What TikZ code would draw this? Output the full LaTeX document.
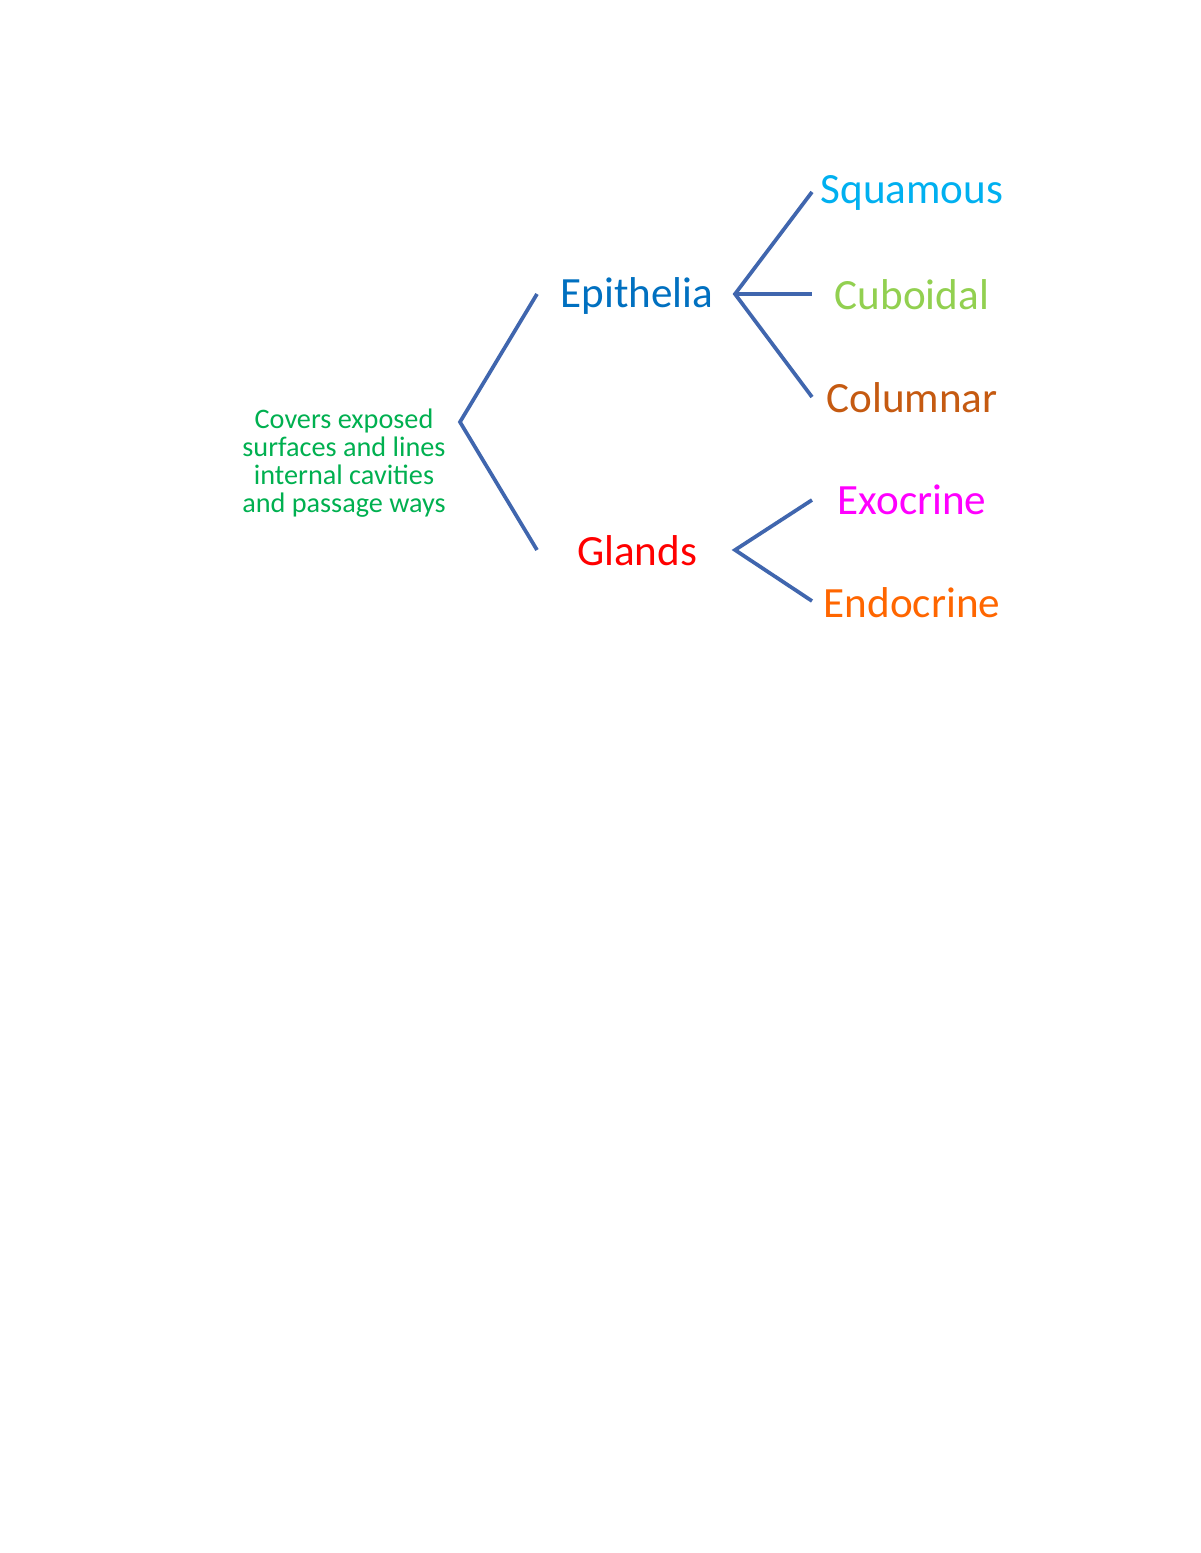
\documentclass[tikz,border=0pt]{standalone}
\usepackage{fontspec}
\setmainfont{Carlito}
\definecolor{linec}{HTML}{4066AE}
\definecolor{epc}{HTML}{0070C0}
\definecolor{glc}{HTML}{FF0000}
\definecolor{sqc}{HTML}{00B0F0}
\definecolor{cuc}{HTML}{92D050}
\definecolor{coc}{HTML}{C55A11}
\definecolor{exc}{HTML}{FF00FF}
\definecolor{enc}{HTML}{FF6600}
\definecolor{grc}{HTML}{00B050}
\begin{document}
\begin{tikzpicture}[x=0.51pt,y=-0.51pt,
  conn/.style={draw=linec,line width=1.9pt,line join=miter},
  big/.style={font=\fontsize{22}{26}\selectfont,inner sep=0pt,anchor=center},
  note/.style={font=\fontsize{14.4}{14.3}\selectfont,align=center,text=grc,inner sep=0pt}]
\useasboundingbox (0,0) rectangle (1200,1553);
\fill[white] (0,0) rectangle (1200,1553);
% anchor coordinates
\coordinate (v0) at (460,422);
\coordinate (t0) at (537,294);
\coordinate (b0) at (537,550);
\coordinate (v1) at (735,294);
\coordinate (s1) at (812,192);
\coordinate (m1) at (812,294);
\coordinate (c1) at (812,397);
\coordinate (v2) at (735,550);
\coordinate (e1) at (812,500);
\coordinate (e2) at (812,601);
% texts
\node[note] (cov) at (344,463) {Covers exposed\\surfaces and lines\\internal cavities\\and passage ways};
\node[big,text=epc] (epi) at (637,296) {Epithelia};
\node[big,text=glc] (gla) at (637,551) {Glands};
\node[big,text=sqc] (squ) at (912,193) {Squamous};
\node[big,text=cuc] (cub) at (912,295) {Cuboidal};
\node[big,text=coc] (col) at (912,398) {Columnar};
\node[big,text=exc] (exo) at (912,500) {Exocrine};
\node[big,text=enc] (endo) at (912,603) {Endocrine};
% connectors
\draw[conn] (t0) -- (v0) -- (b0);
\draw[conn] (s1) -- (v1) -- (c1);
\draw[conn] (v1) -- (m1);
\draw[conn] (e1) -- (v2) -- (e2);
\end{tikzpicture}
\end{document}
